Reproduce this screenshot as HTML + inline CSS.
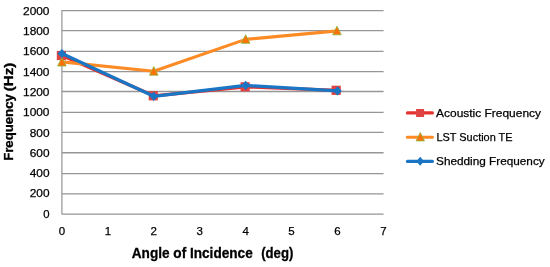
<!DOCTYPE html>
<html lang="en">
<head>
<meta charset="utf-8">
<title>Frequency vs Angle of Incidence</title>
<style>
html,body{margin:0;padding:0;background:#fff;}
body{width:550px;height:267px;overflow:hidden;}
svg{display:block;font-family:"Liberation Sans",sans-serif;}
.t{font-size:11.5px;fill:#000;stroke:#000;stroke-width:0.25px;}
.b{font-size:14.4px;font-weight:bold;fill:#000;stroke:#000;stroke-width:0.3px;}
</style>
</head>
<body>
<svg width="550" height="267" viewBox="0 0 550 267">
<rect width="550" height="267" fill="#ffffff"/>
<defs><filter id="soft" x="-5%" y="-5%" width="110%" height="110%"><feGaussianBlur stdDeviation="0.45"/></filter></defs>
<g stroke="#969696" stroke-width="1.3" fill="none" filter="url(#soft)">
<line x1="61.70" y1="10.55" x2="383.6" y2="10.55"/>
<line x1="61.70" y1="30.60" x2="383.6" y2="30.60"/>
<line x1="61.70" y1="51.31" x2="383.6" y2="51.31"/>
<line x1="61.70" y1="71.69" x2="383.6" y2="71.69"/>
<line x1="61.70" y1="91.50" x2="383.6" y2="91.50"/>
<line x1="61.70" y1="112.45" x2="383.6" y2="112.45"/>
<line x1="61.70" y1="132.40" x2="383.6" y2="132.40"/>
<line x1="61.70" y1="152.75" x2="383.6" y2="152.75"/>
<line x1="61.70" y1="173.59" x2="383.6" y2="173.59"/>
<line x1="61.70" y1="193.97" x2="383.6" y2="193.97"/>
<line x1="61.70" y1="214.05" x2="383.6" y2="214.05"/>
<line x1="61.90" y1="10.25" x2="61.90" y2="214.35" stroke="#9c9c9c"/>
</g>
<g class="t">
<text x="23.02" y="14.75" textLength="26.48" lengthAdjust="spacingAndGlyphs">2000</text>
<text x="23.02" y="35.05" textLength="26.48" lengthAdjust="spacingAndGlyphs">1800</text>
<text x="23.02" y="55.35" textLength="26.48" lengthAdjust="spacingAndGlyphs">1600</text>
<text x="23.02" y="75.65" textLength="26.48" lengthAdjust="spacingAndGlyphs">1400</text>
<text x="23.02" y="95.95" textLength="26.48" lengthAdjust="spacingAndGlyphs">1200</text>
<text x="23.02" y="116.25" textLength="26.48" lengthAdjust="spacingAndGlyphs">1000</text>
<text x="29.74" y="136.55" textLength="19.76" lengthAdjust="spacingAndGlyphs">800</text>
<text x="29.74" y="156.85" textLength="19.76" lengthAdjust="spacingAndGlyphs">600</text>
<text x="29.74" y="177.15" textLength="19.76" lengthAdjust="spacingAndGlyphs">400</text>
<text x="29.74" y="197.45" textLength="19.76" lengthAdjust="spacingAndGlyphs">200</text>
<text x="43.18" y="217.75" textLength="6.32" lengthAdjust="spacingAndGlyphs">0</text>
<text x="61.90" y="235.25" text-anchor="middle">0</text>
<text x="107.83" y="235.25" text-anchor="middle">1</text>
<text x="153.76" y="235.25" text-anchor="middle">2</text>
<text x="199.69" y="235.25" text-anchor="middle">3</text>
<text x="245.62" y="235.25" text-anchor="middle">4</text>
<text x="291.55" y="235.25" text-anchor="middle">5</text>
<text x="337.48" y="235.25" text-anchor="middle">6</text>
<text x="383.41" y="235.25" text-anchor="middle">7</text>
</g>
<g>
<polyline points="61.90,55.50 153.76,95.80 245.62,86.80 337.48,90.30" fill="none" stroke="#e5322f" stroke-width="3.2" stroke-linejoin="round" stroke-linecap="round"/>
<rect x="56.80" y="50.90" width="9.2" height="9.2" fill="#e04343"/><rect x="148.66" y="91.20" width="9.2" height="9.2" fill="#e04343"/><rect x="240.52" y="82.20" width="9.2" height="9.2" fill="#e04343"/><rect x="331.58" y="85.70" width="9.2" height="9.2" fill="#e04343"/>
<polyline points="61.90,61.90 153.76,71.20 245.62,39.35 337.48,30.90" fill="none" stroke="#fd8b25" stroke-width="3.1" stroke-linejoin="round" stroke-linecap="round"/>
<polygon points="61.90,57.40 66.20,66.00 57.60,66.00" fill="#ff6f0a" stroke="#8db534" stroke-width="0.8" stroke-linejoin="miter"/><polygon points="153.76,66.60 158.06,75.20 149.46,75.20" fill="#ff6f0a" stroke="#8db534" stroke-width="0.8" stroke-linejoin="miter"/><polygon points="245.62,34.70 249.92,43.30 241.32,43.30" fill="#ff6f0a" stroke="#8db534" stroke-width="0.8" stroke-linejoin="miter"/><polygon points="336.98,26.20 341.28,34.80 332.68,34.80" fill="#ff6f0a" stroke="#8db534" stroke-width="0.8" stroke-linejoin="miter"/>
<polyline points="61.90,53.50 153.76,96.30 245.62,85.40 337.48,90.95" fill="none" stroke="#1a76c4" stroke-width="3.2" stroke-linejoin="round" stroke-linecap="round"/>
<polygon points="61.90,48.90 66.30,53.50 61.90,58.10 57.50,53.50" fill="#1a76c4"/><polygon points="153.76,91.70 158.16,96.30 153.76,100.90 149.36,96.30" fill="#1a76c4"/><polygon points="245.62,80.80 250.02,85.40 245.62,90.00 241.22,85.40" fill="#1a76c4"/><polygon points="337.48,86.35 341.88,90.95 337.48,95.55 333.08,90.95" fill="#1a76c4"/>
</g>
<g>
<line x1="407.4" y1="112.9" x2="432.4" y2="112.9" stroke="#e5322f" stroke-width="3.1" stroke-linecap="round"/>
<line x1="407.4" y1="137.3" x2="432.4" y2="137.3" stroke="#fd8b25" stroke-width="3.1" stroke-linecap="round"/>
<line x1="407.4" y1="161.4" x2="432.4" y2="161.4" stroke="#1a76c4" stroke-width="3.1" stroke-linecap="round"/>
<rect x="416.10" y="109.00" width="8.0" height="8.0" fill="#e04343"/><polygon points="420.30,132.50 424.50,140.90 416.10,140.90" fill="#ff6f0a" stroke="#8db534" stroke-width="0.8" stroke-linejoin="miter"/><polygon points="420.20,156.80 424.00,161.30 420.20,165.80 416.40,161.30" fill="#1a76c4"/>
</g>
<g class="t">
<text x="436.1" y="117.00" textLength="104.9" lengthAdjust="spacingAndGlyphs">Acoustic Frequency</text>
<text x="436.5" y="141.00" textLength="76.0" lengthAdjust="spacingAndGlyphs">LST Suction TE</text>
<text x="436.1" y="164.70" textLength="108.6" lengthAdjust="spacingAndGlyphs">Shedding Frequency</text>
</g>
<g class="b">
<text x="131.8" y="257.8" textLength="120.9" lengthAdjust="spacingAndGlyphs">Angle of Incidence</text>
<text x="261.2" y="257.8" textLength="32.2" lengthAdjust="spacingAndGlyphs">(deg)</text>
<text transform="translate(13.2,160.8) rotate(-90)" x="0" y="0" font-size="12.6" textLength="66.6" lengthAdjust="spacingAndGlyphs">Frequency</text>
<text transform="translate(13.2,91.3) rotate(-90)" x="0" y="0" font-size="12.6" textLength="28.6" lengthAdjust="spacingAndGlyphs">(Hz)</text>
</g>
</svg>
</body>
</html>
